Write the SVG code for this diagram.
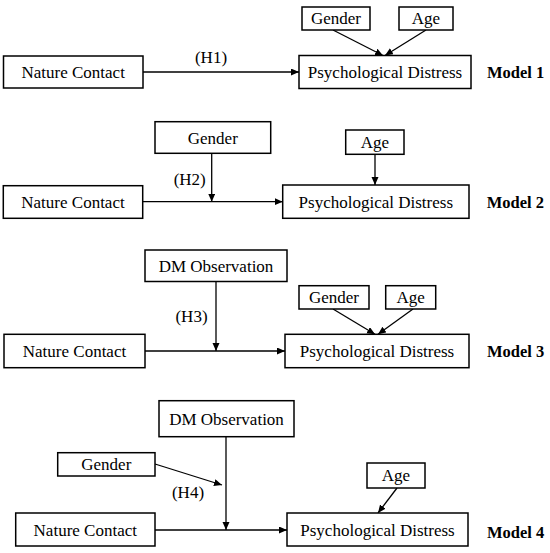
<svg xmlns="http://www.w3.org/2000/svg" width="550" height="553" viewBox="0 0 550 553" font-family="'Liberation Serif', 'Times New Roman', Times, serif">
<style>
rect.box{fill:#fff;stroke:#000;stroke-width:1.5}
text{font-family:'Liberation Serif','Times New Roman',Times,serif;font-size:17px;fill:#000}
text.c{text-anchor:middle}
text.m{font-weight:bold;font-size:16.5px}
line.cn{stroke:#000;stroke-width:1.3;marker-end:url(#ah)}
</style>
<defs>
<marker id="ah" markerUnits="userSpaceOnUse" markerWidth="9" markerHeight="8" refX="8" refY="3.5" orient="auto">
<path d="M0,0 L8,3.5 L0,7 z" fill="#000"/>
</marker>
</defs>
<rect width="550" height="553" fill="#fff"/>
<g id="connectors">
<line class="cn" x1="143" y1="72" x2="299" y2="72"/>
<line class="cn" x1="333" y1="30" x2="383" y2="55.5"/>
<line class="cn" x1="426" y1="30" x2="385" y2="55.5"/>
<line class="cn" x1="142.7" y1="201.7" x2="282.7" y2="201.7"/>
<line class="cn" x1="211.7" y1="153.3" x2="211.7" y2="201.7"/>
<line class="cn" x1="375" y1="154.3" x2="375" y2="185"/>
<line class="cn" x1="145" y1="351" x2="285" y2="351"/>
<line class="cn" x1="216" y1="281.5" x2="216" y2="351"/>
<line class="cn" x1="333" y1="309" x2="375" y2="334.3"/>
<line class="cn" x1="413" y1="309" x2="378" y2="334.3"/>
<line class="cn" x1="155" y1="530" x2="287" y2="530"/>
<line class="cn" x1="226" y1="436.7" x2="226" y2="530"/>
<line class="cn" x1="155" y1="464" x2="222" y2="485"/>
<line class="cn" x1="397" y1="488" x2="378" y2="513"/>
</g>
<g id="labels" font-family="'Liberation Serif', serif">
<text class="c" x="211" y="63">(H1)</text>
<text class="c" x="189.7" y="185">(H2)</text>
<text class="c" x="191.5" y="322.3">(H3)</text>
<text class="c" x="188" y="498">(H4)</text>
<text class="m" x="487" y="78">Model 1</text>
<text class="m" x="486.7" y="208">Model 2</text>
<text class="m" x="487" y="357">Model 3</text>
<text class="m" x="487" y="538">Model 4</text>
</g>
<g id="m1-nature"><rect class="box" x="3.5" y="56" width="139.5" height="32"/><text class="c" x="73.2" y="78">Nature Contact</text></g>
<g id="m1-distress"><rect class="box" x="299" y="55.5" width="172" height="33"/><text class="c" x="385" y="78">Psychological Distress</text></g>
<g id="m1-gender"><rect class="box" x="302" y="7" width="68" height="23"/><text class="c" x="336" y="24">Gender</text></g>
<g id="m1-age"><rect class="box" x="399" y="7" width="54" height="23"/><text class="c" x="426" y="24">Age</text></g>

<g id="m2-gender"><rect class="box" x="155" y="121.7" width="115.7" height="31.6"/><text class="c" x="212.8" y="143.5">Gender</text></g>
<g id="m2-age"><rect class="box" x="345.7" y="130" width="58.3" height="24.3"/><text class="c" x="374.8" y="147.7">Age</text></g>
<g id="m2-nature"><rect class="box" x="3.3" y="185.7" width="139.4" height="32.6"/><text class="c" x="73" y="208">Nature Contact</text></g>
<g id="m2-distress"><rect class="box" x="282.7" y="185" width="186.3" height="33.3"/><text class="c" x="375.8" y="208">Psychological Distress</text></g>

<g id="m3-dm"><rect class="box" x="145" y="250" width="142" height="31.5"/><text class="c" x="216" y="271.5">DM Observation</text></g>
<g id="m3-gender"><rect class="box" x="299" y="285.7" width="70" height="23.3"/><text class="c" x="334" y="302.8">Gender</text></g>
<g id="m3-age"><rect class="box" x="385.7" y="285.7" width="50" height="23.3"/><text class="c" x="410.7" y="302.8">Age</text></g>
<g id="m3-nature"><rect class="box" x="4" y="334.3" width="141" height="33.4"/><text class="c" x="74.5" y="357">Nature Contact</text></g>
<g id="m3-distress"><rect class="box" x="285" y="334.3" width="184" height="33.4"/><text class="c" x="377" y="357">Psychological Distress</text></g>

<g id="m4-dm"><rect class="box" x="159" y="400.7" width="135" height="36"/><text class="c" x="226.5" y="424.7">DM Observation</text></g>
<g id="m4-gender"><rect class="box" x="57.7" y="452.7" width="97.3" height="23.3"/><text class="c" x="106.3" y="469.9">Gender</text></g>
<g id="m4-age"><rect class="box" x="367" y="463" width="58" height="25"/><text class="c" x="396" y="481">Age</text></g>
<g id="m4-nature"><rect class="box" x="15.7" y="513" width="139.3" height="33"/><text class="c" x="85.3" y="535.5">Nature Contact</text></g>
<g id="m4-distress"><rect class="box" x="287" y="513" width="181" height="33"/><text class="c" x="377.5" y="535.5">Psychological Distress</text></g>
</svg>
